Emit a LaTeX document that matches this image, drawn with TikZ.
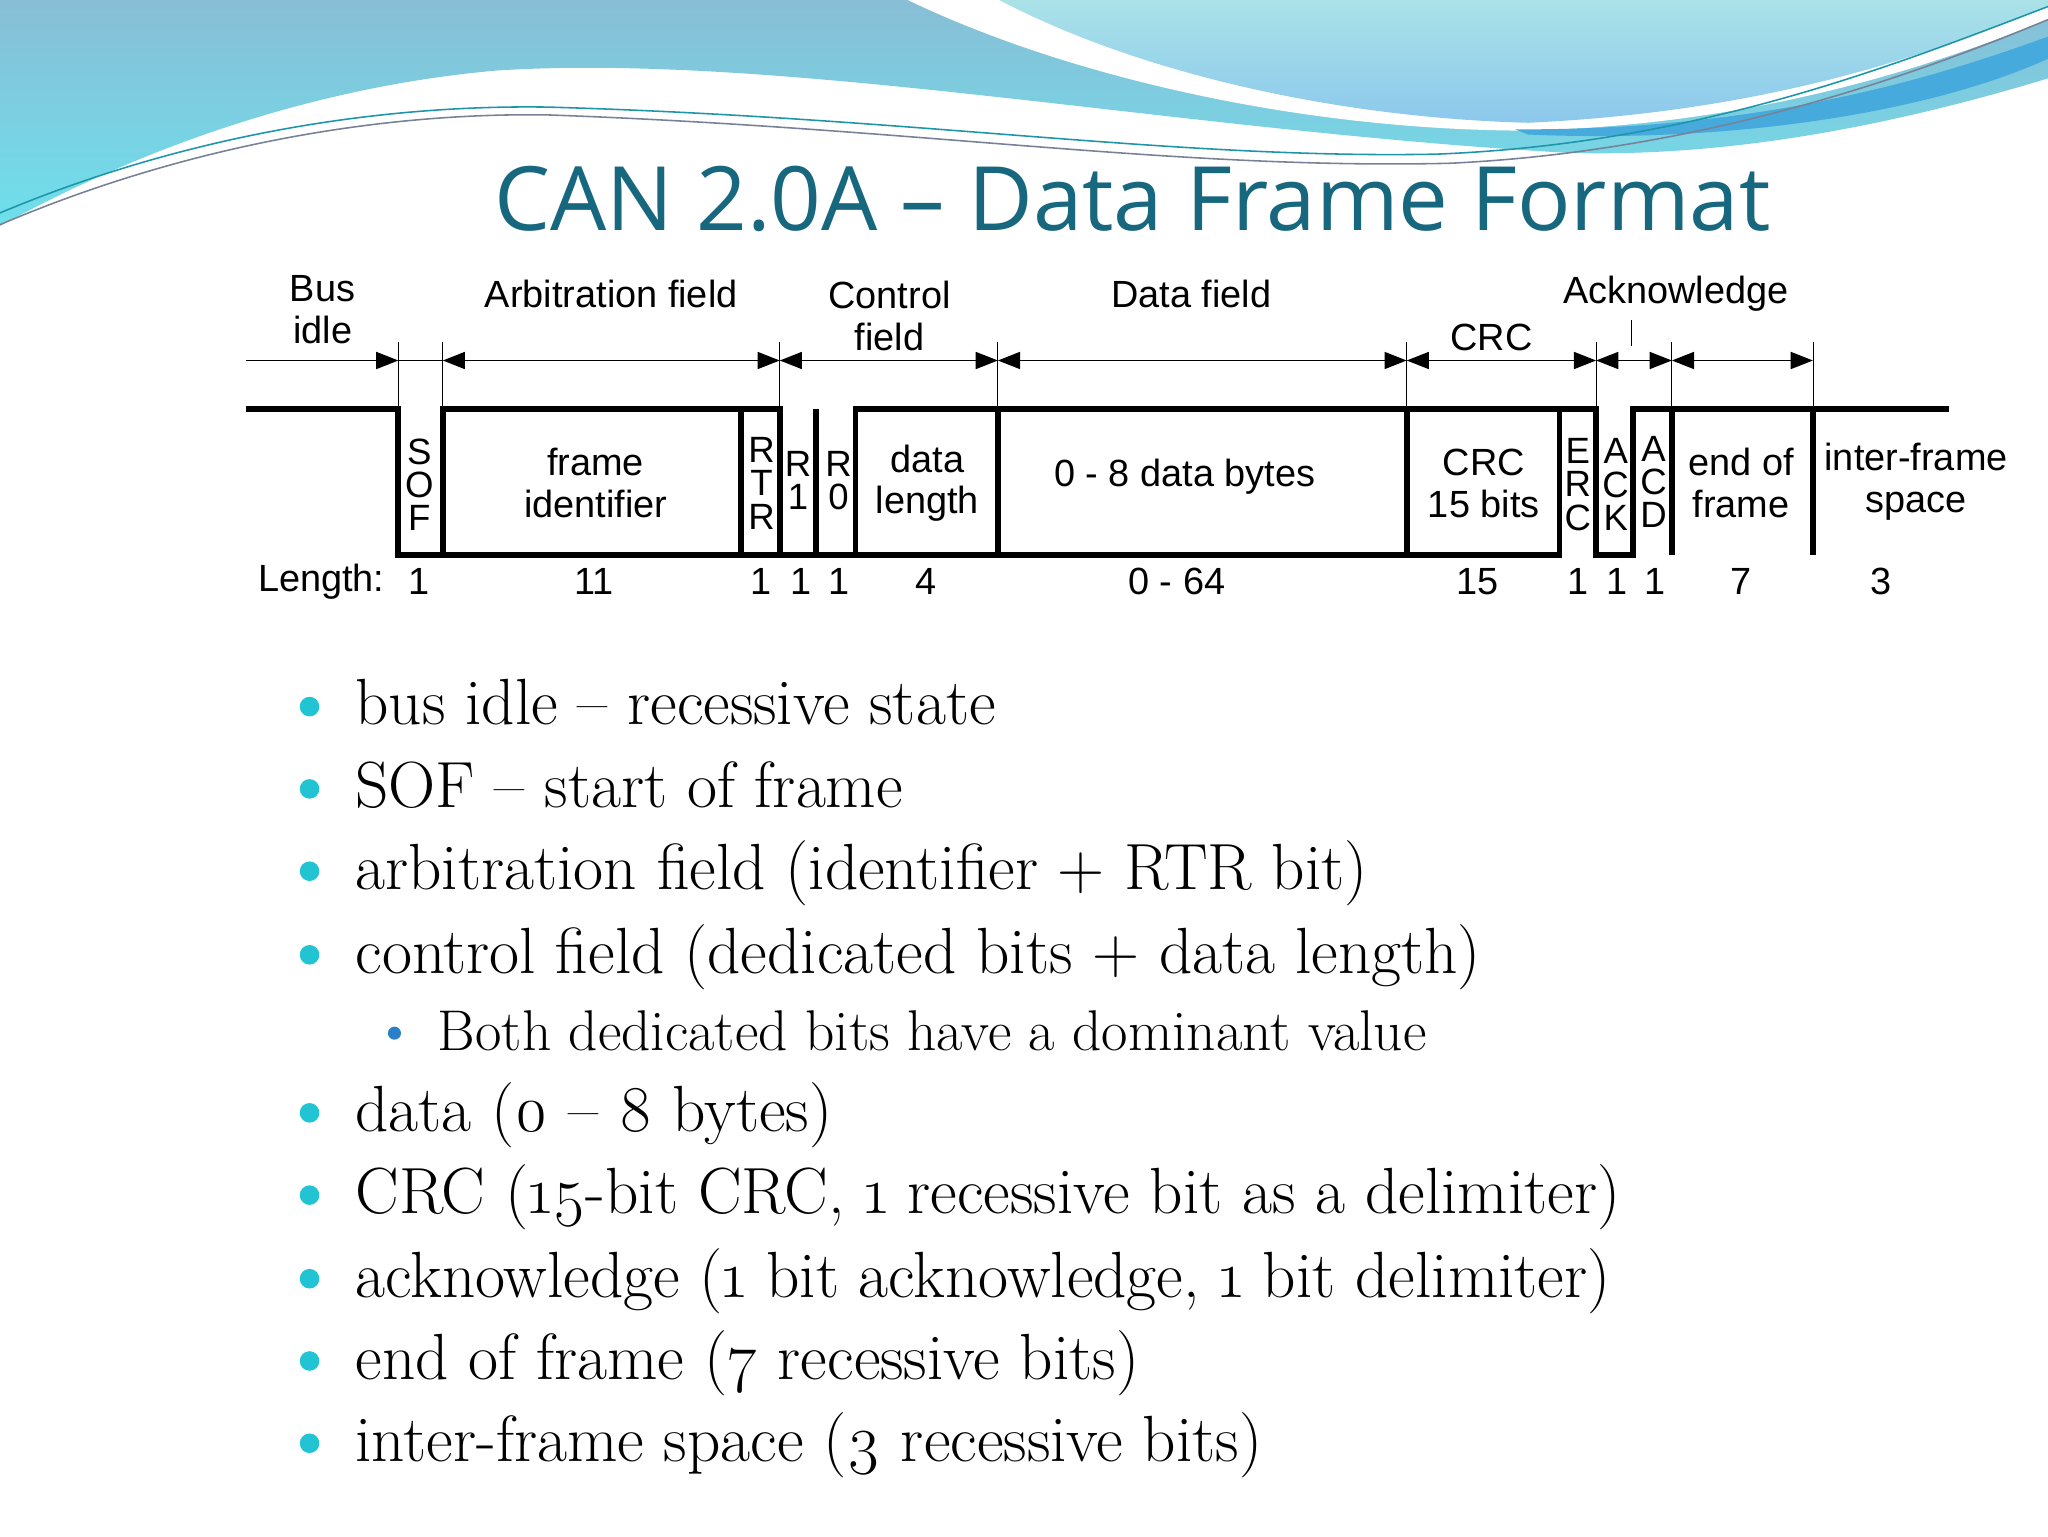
\documentclass[tikz,border=0pt]{standalone}
\usepackage{fontspec}
\setmainfont{Latin Modern Roman}[Numbers=OldStyle]
\newfontfamily\arialf{Liberation Sans}
\newfontfamily\titlef{Open Sans}
\usetikzlibrary{arrows.meta}
\definecolor{titlec}{HTML}{17677E}
\definecolor{bulc}{HTML}{22C4D4}
\definecolor{subc}{HTML}{2A7FC8}
\definecolor{bandtop}{RGB}{136,190,214}
\definecolor{bandbot}{RGB}{110,224,236}
\definecolor{lighttop}{RGB}{170,226,232}
\definecolor{lightbot}{RGB}{140,200,236}
\definecolor{stripc}{RGB}{70,170,220}
\definecolor{linea}{RGB}{30,150,170}
\definecolor{lineb}{RGB}{120,130,150}
\begin{document}
\begin{tikzpicture}[x=1pt,y=-1pt,
  wave/.style={line width=4.5pt,line join=miter},
  tick/.style={line width=0.6pt},
  dim/.style={line width=1.4pt,{Triangle[length=17pt,width=13pt]}-{Triangle[length=17pt,width=13pt]}},
  dimr/.style={line width=1.4pt,-{Triangle[length=17pt,width=13pt]}},
  lab/.style={font=\arialf\fontsize{29}{32}\selectfont,align=center,inner sep=0pt},
  vl/.style={font=\arialf\fontsize{28}{25.5}\selectfont,align=center,inner sep=0pt},
  bul/.style={font=\fontsize{50}{54}\selectfont,anchor=base west,inner sep=0pt},
  sbul/.style={font=\fontsize{44}{48}\selectfont,anchor=base west,inner sep=0pt}]
\useasboundingbox (0,0) rectangle (1568,1176);
\fill[white] (0,0) rectangle (1568,1176);
% background band
\shade[top color=bandtop,bottom color=bandbot]
  (0,0) -- (1568,0) -- (1568,60) .. controls (1420,105) and (1300,120) .. (1200,117)
  .. controls (900,100) and (600,40) .. (380,54) .. controls (200,70) and (60,140) .. (0,173) -- cycle;
\fill[white] (695,0) .. controls (820,60) and (1000,100) .. (1170,100) .. controls (1350,95) and (1480,50) .. (1568,15) -- (1568,0) -- cycle;
\shade[top color=lighttop,bottom color=lightbot]
  (765,0) .. controls (870,55) and (1020,90) .. (1170,94) .. controls (1360,85) and (1480,40) .. (1568,5) -- (1568,0) -- cycle;
\fill[stripc] (1160,99) .. controls (1350,100) and (1480,60) .. (1568,28) -- (1568,45) .. controls (1480,85) and (1330,110) .. (1170,103) -- cycle;
\draw[line width=1.2pt,linea] (0,163) .. controls (150,100) and (300,80) .. (420,82) .. controls (700,90) and (900,122) .. (1100,118) .. controls (1300,110) and (1450,50) .. (1568,5);
\draw[line width=1.2pt,lineb] (0,172) .. controls (150,108) and (300,86) .. (420,88) .. controls (700,98) and (900,130) .. (1110,125) .. controls (1300,116) and (1460,60) .. (1568,15);
% title
\node[font=\titlef\fontsize{68}{72}\selectfont,text=titlec,inner sep=0pt] (title) at (867,152) {CAN 2.0A – Data Frame Format};
% waveform
\draw[wave] (188,313) -- (305,313) -- (305,425) -- (1077,425);
\draw[wave] (339,425) -- (339,313) -- (597,313) -- (597,425);
\draw[wave] (567,313) -- (567,425);
\draw[wave] (625,313) -- (625,425);
\draw[wave] (655,425) -- (655,313) -- (1077,313) -- (1077,425) -- (1194,425) -- (1194,313);
\draw[wave] (764,313) -- (764,425);
\draw[wave] (1077,313) -- (1222,313) -- (1222,425) -- (1250,425) -- (1250,313) -- (1492,313);
\draw[wave] (1280,313) -- (1280,425);
\draw[wave] (1388,313) -- (1388,425);
% ticks
\foreach \x in {305,339,597,764,1077,1222,1280,1388} \draw[tick] (\x,262) -- (\x,313);
\draw[tick] (1249,245) -- (1249,265);
% dimension arrows
\coordinate (a0) at (188,276); \coordinate (a1) at (305,276); \coordinate (a2) at (339,276);
\coordinate (a3) at (597,276); \coordinate (a4) at (764,276); \coordinate (a5) at (1077,276);
\coordinate (a6) at (1222,276); \coordinate (a7) at (1280,276); \coordinate (a8) at (1388,276);
\draw[dimr] (a0) -- (a1);
\draw[line width=1.4pt] (a1) -- (a2);
\draw[dim] (a2) -- (a3);
\draw[dim] (a3) -- (a4);
\draw[dim] (a4) -- (a5);
\draw[dim] (a5) -- (a6);
\draw[dim] (a6) -- (a7);
\draw[dim] (a7) -- (a8);
% labels above
\node[lab] (l1) at (247,237) {Bus\\idle};
\node[lab] (l2) at (468,225) {Arbitration field};
\node[lab] (l3) at (681,242) {Control\\field};
\node[lab] (l4) at (912,225) {Data field};
\node[lab] (l5) at (1142,258) {CRC};
\node[lab] (l6) at (1283,225) {Acknowledge};
% box labels
\node[lab] (b1) at (456,370) {frame\\identifier};
\node[lab] (b2) at (710,370) {data\\length};
\node[lab] (b3) at (907,365) {0 - 8 data bytes};
\node[lab] (b4) at (1136,370) {CRC\\15 bits};
\node[lab] (b5) at (1333,370) {end of\\frame};
\node[lab] (b6) at (1467,369) {inter-frame\\space};
\node[vl] (v1) at (321,371) {S\\O\\F};
\node[vl] (v2) at (583,370) {R\\T\\R};
\node[vl] (v3) at (611,368) {R\\1};
\node[vl] (v4) at (642,368) {R\\0};
\node[vl] (v5) at (1208,371) {E\\R\\C};
\node[vl] (v6) at (1237,371) {A\\C\\K};
\node[vl] (v7) at (1266,369) {A\\C\\D};
% lengths
\foreach \x/\t [count=\i] in {246/Length:,321/1,455/11,583/1,613/1,642/1,709/4,901/0 - 64,1131/15,1208/1,1238/1,1267/1,1333/7,1440/3}
  \node[lab] (n\i) at (\x,445) {\t};
% bullets
\foreach \y/\t [count=\i] in {555/bus idle – recessive state,618/SOF – start of frame,681/arbitration field (identifier + RTR bit),745/control field (dedicated bits + data length),866/data (0 – 8 bytes),929/{CRC (15-bit CRC, 1 recessive bit as a delimiter)},993/{acknowledge (1 bit acknowledge, 1 bit delimiter)},1056/end of frame (7 recessive bits),1119/inter-frame space (3 recessive bits)}
{ \fill[bulc] (237,\y-14) circle (7.5);
  \node[bul] (t\i) at (272,\y) {\t}; }
\fill[subc] (302,791) circle (5);
\node[sbul] (s1) at (335,804) {Both dedicated bits have a dominant value};
\end{tikzpicture}
\end{document}
